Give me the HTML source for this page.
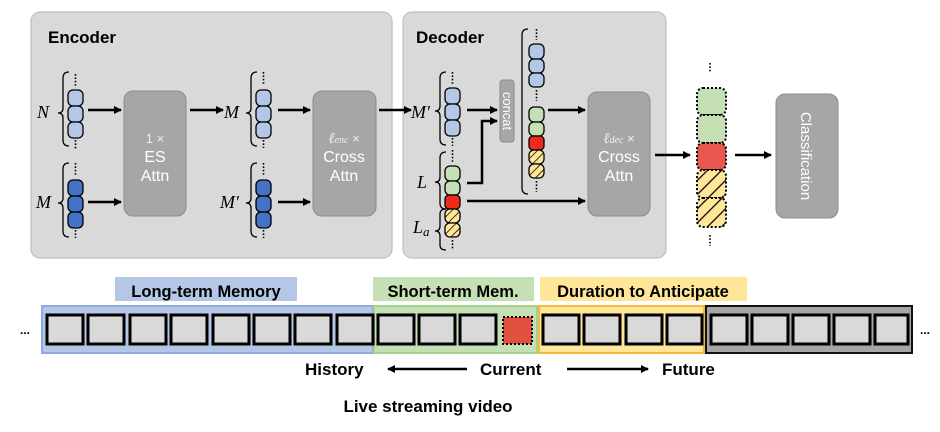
<!DOCTYPE html>
<html><head><meta charset="utf-8"><style>
html,body{margin:0;padding:0;background:#fff;}
svg{display:block;}
text{font-family:"Liberation Sans",sans-serif;}
text.b,.b text{font-weight:bold;}
text.m,.m text,tspan.m{font-family:"Liberation Serif",serif;font-style:italic;}
</style></head><body>
<svg width="940" height="432" viewBox="0 0 940 432" xmlns="http://www.w3.org/2000/svg">
<defs>
<pattern id="h" width="6" height="6" patternUnits="userSpaceOnUse" patternTransform="rotate(45)">
<rect width="6" height="6" fill="#ffe699"/><line x1="0" y1="0" x2="0" y2="6" stroke="#000" stroke-width="1.6"/></pattern>
<pattern id="h2" width="10" height="10" patternUnits="userSpaceOnUse" patternTransform="rotate(45)">
<rect width="10" height="10" fill="#ffe699"/><line x1="0" y1="0" x2="0" y2="10" stroke="#000" stroke-width="2.5"/></pattern>
<marker id="a" markerWidth="8" markerHeight="8" refX="7" refY="4" orient="auto" markerUnits="userSpaceOnUse"><path d="M0,0 L8,4 L0,8 Z" fill="#000"/></marker>
</defs>

<rect x="31" y="12" width="361" height="246" rx="9" fill="#d9d9d9" stroke="#bfbfbf" stroke-width="1.2"/>
<rect x="403" y="12" width="263" height="246" rx="9" fill="#d9d9d9" stroke="#bfbfbf" stroke-width="1.2"/>
<text x="48" y="43" class="b" font-size="17">Encoder</text>
<text x="416" y="43" class="b" font-size="17">Decoder</text>

<g stroke="#000" stroke-width="1.3">
<rect x="68" y="90" width="15" height="16" rx="5" fill="#b4c7e7"/>
<rect x="68" y="106" width="15" height="16" rx="5" fill="#b4c7e7"/>
<rect x="68" y="122" width="15" height="16" rx="5" fill="#b4c7e7"/>
<rect x="68" y="180" width="15" height="16" rx="5" fill="#4472c4"/>
<rect x="68" y="196" width="15" height="16" rx="5" fill="#4472c4"/>
<rect x="68" y="212" width="15" height="16" rx="5" fill="#4472c4"/>
<rect x="256" y="90" width="15" height="16" rx="5" fill="#b4c7e7"/>
<rect x="256" y="106" width="15" height="16" rx="5" fill="#b4c7e7"/>
<rect x="256" y="122" width="15" height="16" rx="5" fill="#b4c7e7"/>
<rect x="256" y="180" width="15" height="16" rx="5" fill="#4472c4"/>
<rect x="256" y="196" width="15" height="16" rx="5" fill="#4472c4"/>
<rect x="256" y="212" width="15" height="16" rx="5" fill="#4472c4"/>
<rect x="445" y="88" width="15" height="16" rx="5" fill="#b4c7e7"/>
<rect x="445" y="104" width="15" height="16" rx="5" fill="#b4c7e7"/>
<rect x="445" y="120" width="15" height="16" rx="5" fill="#b4c7e7"/>
<rect x="445" y="166" width="15" height="15" rx="5" fill="#c5e0b4"/>
<rect x="445" y="181" width="15" height="14" rx="5" fill="#c5e0b4"/>
<rect x="445" y="195" width="15" height="14" rx="4" fill="#ee2a1c"/>
<rect x="445" y="209" width="15" height="14" rx="5" fill="url(#h)"/>
<rect x="445" y="223" width="15" height="14" rx="5" fill="url(#h)"/>
<rect x="529" y="44" width="15" height="15" rx="5" fill="#b4c7e7"/>
<rect x="529" y="59" width="15" height="14" rx="5" fill="#b4c7e7"/>
<rect x="529" y="73" width="15" height="14" rx="5" fill="#b4c7e7"/>
<rect x="529" y="107" width="15" height="15" rx="5" fill="#c5e0b4"/>
<rect x="529" y="122" width="15" height="14" rx="5" fill="#c5e0b4"/>
<rect x="529" y="136" width="15" height="14" rx="4" fill="#ee2a1c"/>
<rect x="529" y="150" width="15" height="14" rx="5" fill="url(#h)"/>
<rect x="529" y="164" width="15" height="14" rx="5" fill="url(#h)"/>
</g>
<g stroke="#000" stroke-width="2" stroke-dasharray="2,2">
<rect x="697" y="88" width="29" height="27" rx="6" fill="#c5e0b4"/>
<rect x="697" y="115" width="29" height="28" rx="6" fill="#c5e0b4"/>
<rect x="697" y="143" width="29" height="27" rx="6" fill="#e8584e"/>
<rect x="697" y="170" width="29" height="28" rx="6" fill="url(#h2)"/>
<rect x="697" y="198" width="29" height="29" rx="6" fill="url(#h2)"/>
</g>

<g stroke="#000" stroke-width="1.6" stroke-dasharray="1.6,1.8">
<line x1="75.5" y1="74" x2="75.5" y2="86"/><line x1="75.5" y1="140" x2="75.5" y2="149"/>
<line x1="75.5" y1="163" x2="75.5" y2="175"/><line x1="75.5" y1="230" x2="75.5" y2="238"/>
<line x1="263.5" y1="72" x2="263.5" y2="85"/><line x1="263.5" y1="140" x2="263.5" y2="148"/>
<line x1="263.5" y1="163" x2="263.5" y2="175"/><line x1="263.5" y1="230" x2="263.5" y2="238"/>
<line x1="452.5" y1="72" x2="452.5" y2="84"/><line x1="452.5" y1="138" x2="452.5" y2="146"/>
<line x1="452.5" y1="150" x2="452.5" y2="162"/><line x1="452.5" y1="240" x2="452.5" y2="249"/>
<line x1="536.5" y1="29" x2="536.5" y2="40"/><line x1="536.5" y1="90" x2="536.5" y2="101"/>
<line x1="536.5" y1="181" x2="536.5" y2="192"/>
<line x1="710" y1="63" x2="710" y2="73"/><line x1="710" y1="235" x2="710" y2="246"/>
</g>

<g fill="none" stroke="#000" stroke-width="1.3">
<path d="M69,72 Q63,72 63,78 L63,108 Q63,113 58,113 Q63,113 63,118 L63,140 Q63,146 69,146"/>
<path d="M69,163 Q63,163 63,169 L63,198 Q63,203 58,203 Q63,203 63,208 L63,231 Q63,237 69,237"/>
<path d="M257,72 Q251,72 251,78 L251,108 Q251,113 246,113 Q251,113 251,118 L251,140 Q251,146 257,146"/>
<path d="M257,163 Q251,163 251,169 L251,198 Q251,203 246,203 Q251,203 251,208 L251,231 Q251,237 257,237"/>
<path d="M446,72 Q440,72 440,78 L440,106 Q440,111 435,111 Q440,111 440,116 L440,139 Q440,145 446,145"/>
<path d="M446,152 Q440,152 440,158 L440,177 Q440,182 435,182 Q440,182 440,187 L440,203 Q440,209 446,209"/>
<path d="M446,209 Q440,209 440,214 L440,226 Q440,231 435,231 Q440,231 440,236 L440,245 Q440,250 446,250"/>
<path d="M528,29 Q522,29 522,35 L522,188 Q522,194 528,194"/>
</g>

<g class="m" font-size="18">
<text x="37" y="118">N</text>
<text x="36" y="208">M</text>
<text x="224" y="118">M</text>
<text x="220" y="208">M′</text>
<text x="411" y="118">M′</text>
<text x="417" y="188">L</text>
<text x="413" y="233">L<tspan font-size="13" dy="3">a</tspan></text>
</g>

<g fill="#a6a6a6" stroke="#8c8c8c" stroke-width="1">
<rect x="124" y="91" width="62" height="125" rx="9"/>
<rect x="313" y="91" width="63" height="125" rx="9"/>
<rect x="588" y="92" width="62" height="124" rx="9"/>
<rect x="776" y="94" width="62" height="124" rx="9"/>
<rect x="500" y="80" width="14" height="62" rx="3"/>
</g>
<g fill="#fff" font-size="16" text-anchor="middle">
<text x="155" y="143" font-size="13" fill="#f0f0f0">1 ×</text>
<text x="155" y="162">ES</text><text x="155" y="181">Attn</text>
<text x="344" y="143" font-size="13" fill="#f0f0f0"><tspan class="m" font-size="15">ℓ</tspan><tspan font-size="10" class="m">enc</tspan> ×</text>
<text x="344" y="162">Cross</text><text x="344" y="181">Attn</text>
<text x="619" y="143" font-size="13" fill="#f0f0f0"><tspan class="m" font-size="15">ℓ</tspan><tspan font-size="10" class="m">dec</tspan> ×</text>
<text x="619" y="162">Cross</text><text x="619" y="181">Attn</text>
<text transform="translate(801,156) rotate(90)" font-size="15">Classification</text>
<text transform="translate(503,111) rotate(90)" font-size="13">concat</text>
</g>

<g stroke="#000" stroke-width="2.5" fill="none" marker-end="url(#a)">
<line x1="88" y1="110" x2="121" y2="110"/>
<line x1="88" y1="202" x2="121" y2="202"/>
<line x1="190" y1="110" x2="223" y2="110"/>
<line x1="278" y1="110" x2="310" y2="110"/>
<line x1="278" y1="202" x2="310" y2="202"/>
<line x1="379" y1="110" x2="411" y2="110"/>
<line x1="467" y1="110" x2="497" y2="110"/>
<polyline points="467,183 482,183 482,121 497,121"/>
<line x1="548" y1="110" x2="585" y2="110"/>
<line x1="467" y1="201" x2="585" y2="201"/>
<line x1="655" y1="155" x2="690" y2="155"/>
<line x1="735" y1="155" x2="771" y2="155"/>
</g>

<rect x="115" y="277" width="182" height="24" fill="#b4c7e7"/>
<rect x="373" y="277" width="161" height="24" fill="#c5e0b4"/>
<rect x="540" y="277" width="207" height="24" fill="#ffe699"/>
<g class="b" font-size="16.5">
<text x="206" y="297" text-anchor="middle">Long-term Memory</text>
<text x="453" y="297" text-anchor="middle">Short-term Mem.</text>
<text x="643" y="297" text-anchor="middle">Duration to Anticipate</text>
</g>
<rect x="42" y="306" width="331" height="47" fill="#b4c7e7" stroke="#8faadc" stroke-width="2"/>
<rect x="374" y="306" width="163" height="47" fill="#c5e0b4" stroke="#a9d18e" stroke-width="2"/>
<rect x="539" y="306" width="165" height="47" fill="#ffe699" stroke="#f4b942" stroke-width="2"/>
<rect x="706" y="306" width="206" height="47" fill="#a6a6a6" stroke="#111" stroke-width="2"/>
<g fill="#d9d9d9" stroke="#000" stroke-width="3">
<rect x="47" y="315" width="36" height="29"/><rect x="88" y="315" width="36" height="29"/>
<rect x="130" y="315" width="36" height="29"/><rect x="171" y="315" width="36" height="29"/>
<rect x="213" y="315" width="36" height="29"/><rect x="254" y="315" width="36" height="29"/>
<rect x="295" y="315" width="36" height="29"/><rect x="337" y="315" width="36" height="29"/>
<rect x="378" y="315" width="36" height="29"/><rect x="419" y="315" width="36" height="29"/>
<rect x="460" y="315" width="36" height="29"/>
<rect x="543" y="315" width="36" height="29"/><rect x="584" y="315" width="36" height="29"/>
<rect x="626" y="315" width="36" height="29"/><rect x="667" y="315" width="35" height="29"/>
<rect x="711" y="315" width="36" height="29"/><rect x="752" y="315" width="36" height="29"/>
<rect x="793" y="315" width="36" height="29"/><rect x="834" y="315" width="36" height="29"/>
<rect x="875" y="315" width="33" height="29"/>
</g>
<rect x="503" y="317" width="29" height="27" fill="#e05140" stroke="#000" stroke-width="2" stroke-dasharray="2,2"/>
<text x="20" y="334" font-size="12" class="b">...</text>
<text x="920" y="334" font-size="12" class="b">...</text>

<g class="b" font-size="17">
<text x="305" y="375">History</text>
<text x="480" y="375">Current</text>
<text x="662" y="375">Future</text>
<text x="428" y="412" text-anchor="middle">Live streaming video</text>
</g>
<g stroke="#000" stroke-width="2.5" marker-end="url(#a)">
<line x1="467" y1="369" x2="388" y2="369"/>
<line x1="567" y1="369" x2="648" y2="369"/>
</g>
</svg>
</body></html>
